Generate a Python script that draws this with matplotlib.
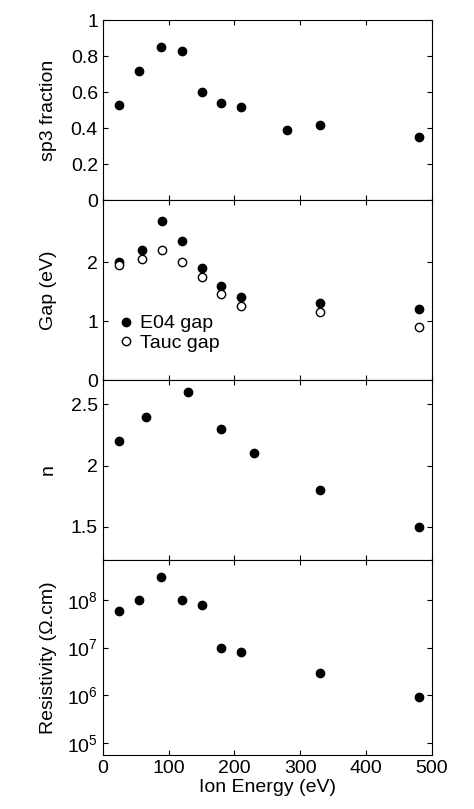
import matplotlib
matplotlib.use("Agg")
import matplotlib.pyplot as plt

sp3_x = [25, 55, 88, 120, 150, 180, 210, 280, 330, 480]
sp3_y = [0.53, 0.72, 0.85, 0.83, 0.60, 0.54, 0.52, 0.39, 0.42, 0.35]
e04_x = [25, 60, 90, 120, 150, 180, 210, 330, 480]
e04_y = [2.0, 2.2, 2.7, 2.35, 1.9, 1.6, 1.4, 1.3, 1.2]
tauc_x = [25, 60, 90, 120, 150, 180, 210, 330, 480]
tauc_y = [1.95, 2.05, 2.2, 2.0, 1.75, 1.45, 1.25, 1.15, 0.9]
n_x = [25, 65, 130, 180, 230, 330, 480]
n_y = [2.2, 2.4, 2.6, 2.3, 2.1, 1.8, 1.5]
res_x = [25, 55, 88, 120, 150, 180, 210, 330, 480]
res_y = [6e7, 1e8, 3e8, 1e8, 8e7, 1e7, 8e6, 3e6, 9e5]

plt.rcParams['font.family'] = ['Liberation Sans', 'DejaVu Sans']
plt.rcParams['font.size'] = 14
fig = plt.figure(figsize=(4.74, 8.09), dpi=100)
gs = fig.add_gridspec(4, 1, height_ratios=[180, 180, 180, 195], hspace=0,
                      left=0.217, right=0.911, top=0.975, bottom=0.067)
axs = [fig.add_subplot(gs[i]) for i in range(4)]
ms = 6
axs[0].plot(sp3_x, sp3_y, 'o', color='black', ms=ms)
axs[0].set_ylim(0, 1)
axs[0].set_yticks([0, 0.2, 0.4, 0.6, 0.8, 1])
axs[0].set_yticklabels(['0', '0.2', '0.4', '0.6', '0.8', '1'])
axs[0].set_ylabel('sp3 fraction')

axs[1].plot(e04_x, e04_y, 'o', color='black', ms=ms, label='E04 gap')
axs[1].plot(tauc_x, tauc_y, 'o', mfc='white', mec='black', ms=ms, label='Tauc gap')
axs[1].set_ylim(0, 3.05)
axs[1].set_yticks([0, 1, 2])
axs[1].set_ylabel('Gap (eV)')
axs[1].legend(loc='lower left', bbox_to_anchor=(0.0, 0.08), frameon=False,
              handletextpad=0.2, borderpad=0.2, labelspacing=0.1, handlelength=1)

axs[2].plot(n_x, n_y, 'o', color='black', ms=ms)
axs[2].set_ylim(1.23, 2.7)
axs[2].set_yticks([1.5, 2, 2.5])
axs[2].set_yticklabels(['1.5', '2', '2.5'])
axs[2].set_ylabel('n')

axs[3].plot(res_x, res_y, 'o', color='black', ms=ms)
axs[3].set_yscale('log')
axs[3].set_ylim(10**4.75, 10**8.84)
axs[3].set_yticks([1e5, 1e6, 1e7, 1e8])
axs[3].minorticks_off()
axs[3].set_ylabel('Resistivity (Ω.cm)')
axs[3].set_xlabel('Ion Energy (eV)', labelpad=2)

for i, ax in enumerate(axs):
    ax.set_xlim(0, 500)
    ax.set_xticks([0, 100, 200, 300, 400, 500])
    ax.tick_params(direction='in', top=True, right=True, labelbottom=(i == 3))
    ax.yaxis.set_label_coords(-0.14, 0.5)
fig.savefig('out.png', dpi=100)
